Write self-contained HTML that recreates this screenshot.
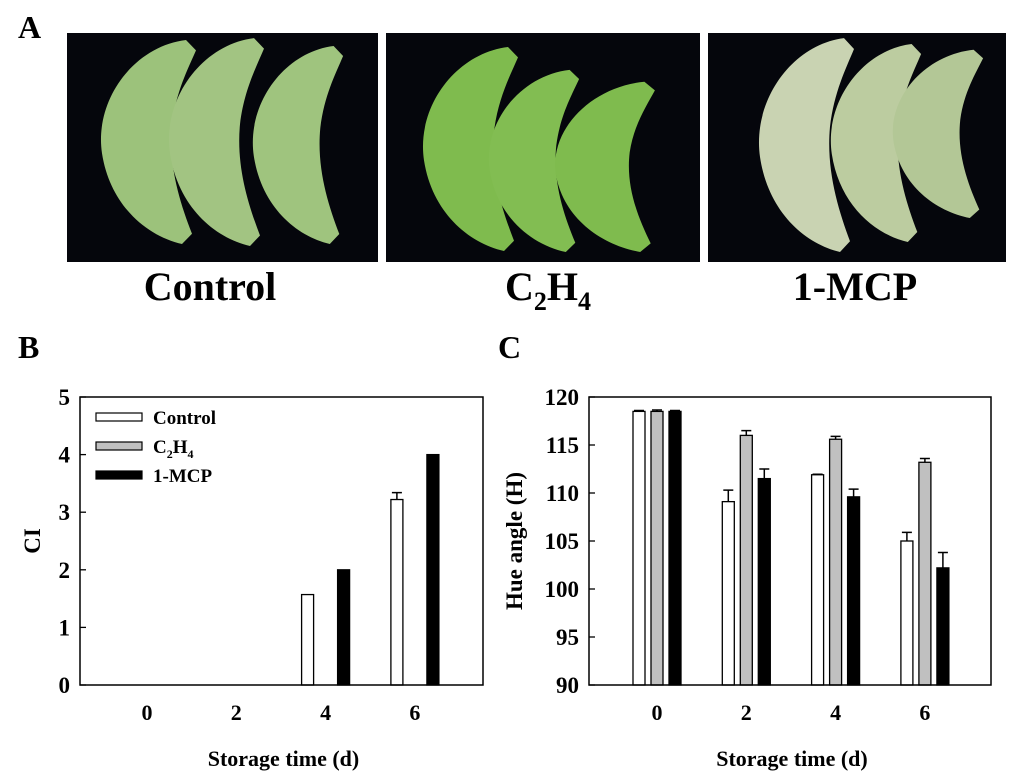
<!DOCTYPE html>
<html><head><meta charset="utf-8"><style>
html,body{margin:0;padding:0;background:#fff;}
svg{display:block;font-family:"Liberation Serif",serif;font-weight:bold;}
</style></head><body>
<svg id="fig" width="1024" height="779" viewBox="0 0 1024 779" xmlns="http://www.w3.org/2000/svg">
<defs>
<path id="banana" d="M88 2 C36 8 -4 60 4 112 C12 162 48 192 84 200 L94 190 C82 160 70 124 74 84 C78 52 90 30 98 12 Z"/>
</defs>
<text x="18" y="38" font-size="32">A</text>
<g>
<rect x="67" y="33" width="311" height="229" fill="#05060c"/>
<use href="#banana" transform="translate(98,38) scale(1.0,1.03)" fill="#9cc27b"/>
<use href="#banana" transform="translate(166,36) scale(1.0,1.05)" fill="#a2c482"/>
<use href="#banana" transform="translate(250,44) scale(0.95,1.0)" fill="#9fc47e"/>
</g>
<g>
<rect x="386" y="33" width="314" height="229" fill="#05060c"/>
<use href="#banana" transform="translate(420,45) scale(1.0,1.03)" fill="#7fbb4e"/>
<use href="#banana" transform="translate(486,68) scale(0.95,0.92)" fill="#82bd52"/>
<use href="#banana" transform="translate(552,80) scale(1.05,0.86)" fill="#7fbb4e"/>
</g>
<g>
<rect x="708" y="33" width="298" height="229" fill="#05060c"/>
<use href="#banana" transform="translate(756,36) scale(1.0,1.08)" fill="#c9d3b2"/>
<use href="#banana" transform="translate(828,42) scale(0.95,1.0)" fill="#bccca0"/>
<use href="#banana" transform="translate(890,48) scale(0.95,0.85)" fill="#b3c796"/>
</g>
<text x="210" y="300" font-size="40" text-anchor="middle">Control</text>
<text x="505" y="300" font-size="40">C<tspan font-size="26" dy="10">2</tspan><tspan dy="-10">H</tspan><tspan font-size="26" dy="10">4</tspan></text>
<text x="855" y="300" font-size="40" text-anchor="middle">1-MCP</text>
<text x="18" y="358" font-size="32">B</text>
<text x="498" y="358" font-size="32">C</text>
<g id="chartB"></g>
<g id="chartC"></g>
</svg>
<script>
const categories = ["0","2","4","6"];
const ciControl = [0, 0, 1.57, 3.22];
const ciControlErr = [0, 0, 0, 0.12];
const ciC2H4 = [0, 0, 0, 0];
const ciC2H4Err = [0, 0, 0, 0];
const ciMCP = [0, 0, 2.0, 4.0];
const ciMCPErr = [0, 0, 0, 0];
const ciTicks = [0,1,2,3,4,5];
const hueControl = [118.5, 109.1, 111.9, 105.0];
const hueControlErr = [0.1, 1.2, 0.05, 0.9];
const hueC2H4 = [118.5, 116.0, 115.6, 113.2];
const hueC2H4Err = [0.15, 0.5, 0.3, 0.4];
const hueMCP = [118.5, 111.5, 109.6, 102.2];
const hueMCPErr = [0.1, 1.0, 0.8, 1.6];
const hueTicks = [90,95,100,105,110,115,120];
const NS="http://www.w3.org/2000/svg";
function mk(tag, attrs, parent){const e=document.createElementNS(NS,tag);for(const k in attrs)e.setAttribute(k,attrs[k]);parent.appendChild(e);return e;}

function drawChart(g, opt){
  const x0=opt.x0,x1=opt.x1,y0=397,y1=685;
  const ys=v=>y1-(v-opt.min)/(opt.max-opt.min)*(y1-y0);
  const xs=i=>opt.c0+i*89.3;
  const series=[{v:opt.s[0],e:opt.e[0],fill:"#fff",off:-24,name:"control"},{v:opt.s[1],e:opt.e[1],fill:"#c0c0c0",off:-6,name:"c2h4"},{v:opt.s[2],e:opt.e[2],fill:"#000",off:12,name:"1mcp"}];
  series.forEach(s=>{
    categories.forEach((c,i)=>{
      const v=s.v[i]; if(v<=opt.min) return;
      const bx=xs(i)+s.off, by=ys(v);
      const r=mk("rect",{x:bx,y:by,width:12,height:y1-by,fill:s.fill,stroke:"#000","stroke-width":1.3},g);
      
      
      if(s.e[i]>0){
        const ey=ys(v+s.e[i]);
        const l=mk("path",{d:`M${bx+6} ${by} V${ey} M${bx+1} ${ey} H${bx+11}`,stroke:"#000","stroke-width":1.5,fill:"none"},g);
        
        
      }
    });
  });
  const fr=mk("rect",{x:x0,y:y0,width:x1-x0,height:y1-y0,fill:"none",stroke:"#000","stroke-width":1.5},g);
  
  
  opt.ticks.forEach(t=>{
    const y=ys(t);
    const tk=mk("line",{x1:x0,x2:x0+6,y1:y,y2:y,stroke:"#000","stroke-width":1.3},g);
    
    
    const tl=mk("text",{x:x0-10,y:y+8,"font-size":23,"text-anchor":"end"},g);
    tl.textContent=t;
    
    
  });
  categories.forEach((c,i)=>{
    const tl=mk("text",{x:xs(i),y:y1+35,"font-size":22,"text-anchor":"middle"},g);
    tl.textContent=c;
    
    
  });
  const xt=mk("text",{x:(x0+x1)/2+2,y:766,"font-size":22,"text-anchor":"middle"},g);
  xt.textContent="Storage time (d)";
  
  
  const yt=mk("text",{x:0,y:0,"font-size":23,"text-anchor":"middle",transform:`translate(${opt.yx},${(y0+y1)/2}) rotate(-90)`},g);
  yt.textContent=opt.ytitle;
  
  
}
const gB=document.getElementById("chartB"), gC=document.getElementById("chartC");
drawChart(gB,{x0:80,x1:483,c0:147,min:0,max:5,ticks:ciTicks,s:[ciControl,ciC2H4,ciMCP],e:[ciControlErr,ciC2H4Err,ciMCPErr],ytitle:"CI",yx:40});
drawChart(gC,{x0:589,x1:991,c0:657,min:90,max:120,ticks:hueTicks,s:[hueControl,hueC2H4,hueMCP],e:[hueControlErr,hueC2H4Err,hueMCPErr],ytitle:"Hue angle (H)",yx:522});
const leg=mk("g",{},gB);


[["#fff","Control",413],["#c0c0c0","C2H4",442],["#000","1-MCP",471]].forEach(([f,l,y])=>{
  const r=mk("rect",{x:96,y:y,width:46,height:8,fill:f,stroke:"#000","stroke-width":1.2},leg);
  
  
  const t=mk("text",{x:153,y:y+11,"font-size":19},leg);
  if(l==="C2H4"){t.innerHTML='C<tspan font-size="12" dy="5">2</tspan><tspan dy="-5">H</tspan><tspan font-size="12" dy="5">4</tspan>';}
  else t.textContent=l;
  
  
});
</script>
</body></html>
